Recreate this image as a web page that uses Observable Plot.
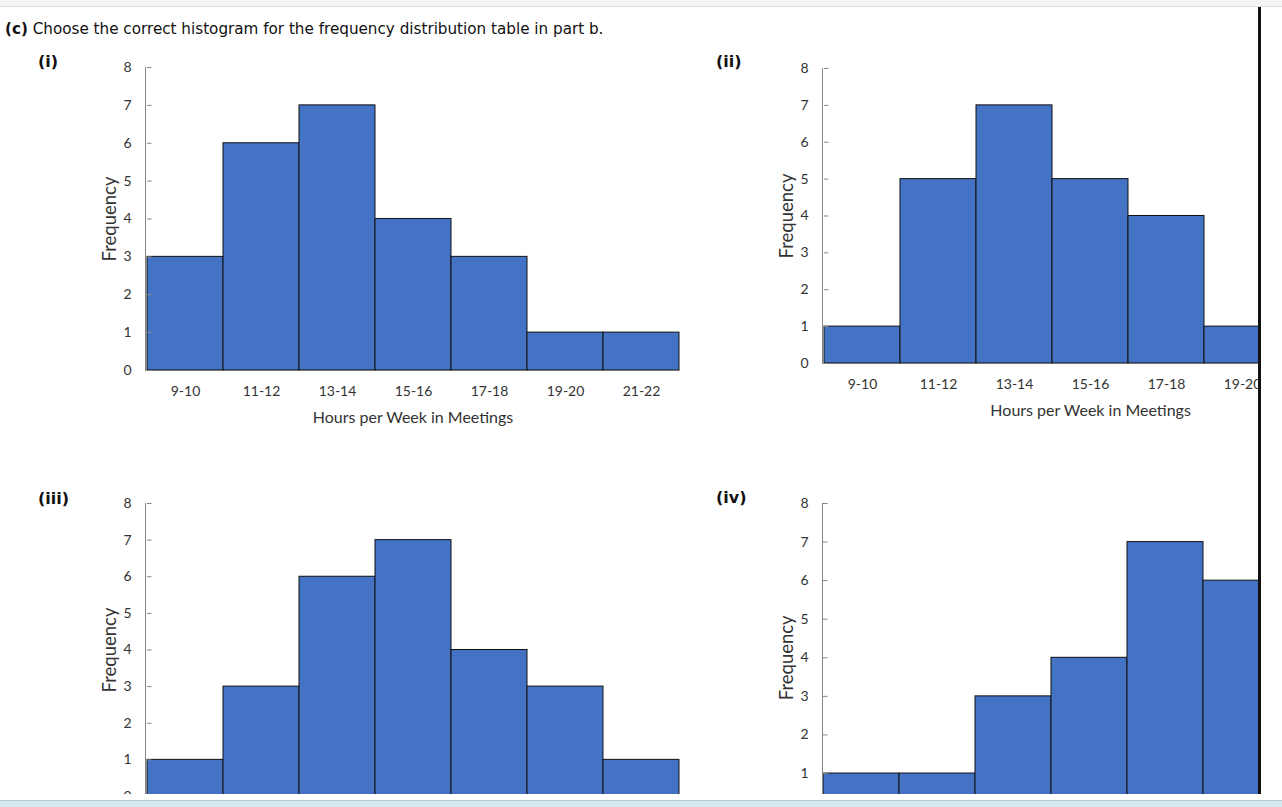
<!DOCTYPE html>
<html>
<head>
<meta charset="utf-8">
<script src="https://cdn.jsdelivr.net/npm/d3@7"></script>
<script src="https://cdn.jsdelivr.net/npm/@observablehq/plot@0.6"></script>
<style>
  html, body { margin: 0; padding: 0; background: #fff; }
  #page { position: relative; width: 1282px; height: 807px; overflow: hidden; background: #fff; }
  #topband { position: absolute; left: 0; top: 0; width: 1282px; height: 6px; background: #f5f5f5; border-bottom: 1px solid #e1e1e1; }
  #heading { position: absolute; left: 5px; top: 20px; font-family: "DejaVu Sans", Verdana, sans-serif; font-size: 15.2px; line-height: 18px; color: #111; white-space: nowrap; }
  #heading b { font-weight: bold; }
  .roman { position: absolute; font-family: "DejaVu Sans", Verdana, sans-serif; font-weight: bold; font-size: 16px; line-height: 18px; color: #111; }
  #clip { position: absolute; left: 0; top: 0; width: 1258px; height: 794px; overflow: hidden; }
  .panel { position: absolute; }
  #vline { position: absolute; left: 1258px; top: 7px; width: 3px; height: 787px; background: #111; }
  #botband { position: absolute; left: 0; top: 800px; width: 1282px; height: 7px; background: #d3e9ef; border-top: 1px solid #b4ccd3; }
</style>
</head>
<body>
<div id="page">
  <div id="topband"></div>
  <div id="heading"><b>(c)</b> Choose the correct histogram for the frequency distribution table in part b.</div>
  <div id="clip"></div>
  <div class="roman" style="left:38px;top:53px">(i)</div>
  <div class="roman" style="left:716px;top:53px">(ii)</div>
  <div class="roman" style="left:38px;top:490px">(iii)</div>
  <div class="roman" style="left:716px;top:489px">(iv)</div>
  <div id="vline"></div>
  <div id="botband"></div>
</div>
<script>
// ---- data ----
const categories = ["9-10", "11-12", "13-14", "15-16", "17-18", "19-20", "21-22"];
const freqI   = [3, 6, 7, 4, 3, 1, 1];
const freqII  = [1, 5, 7, 5, 4, 1];      // last class hidden behind the page edge
const freqIII = [1, 3, 6, 7, 4, 3, 1];
const freqIV  = [1, 1, 3, 4, 7, 6];      // last class hidden behind the page edge
const yTicks  = [0, 1, 2, 3, 4, 5, 6, 7, 8];
const xTitle = "Hours per Week in Meetings";
const yTitle = "Frequency";

function rows(freq) {
  return freq.map((f, i) => ({cat: categories[i], freq: f}));
}

function panel(freq, axisX, y8, y0, bandW) {
  const mL = 70, mT = 10, mB = 70, mR = 20;
  const plotW = bandW * categories.length;
  const width = mL + plotW + mR;
  const height = mT + (y0 - y8) + mB;
  const chart = Plot.plot({
    width, height,
    marginLeft: mL, marginRight: mR, marginTop: mT, marginBottom: mB,
    style: {fontFamily: "Lato, 'Open Sans', sans-serif", fontSize: "14px", background: "transparent", overflow: "visible"},
    x: {domain: categories, padding: 0, axis: null},
    y: {domain: [0, 8], axis: null},
    marks: [
      Plot.ruleY([0], {stroke: "#d9d9d9", strokeWidth: 1}),
      Plot.barY(rows(freq), {x: "cat", y: "freq", fill: "#4472c4", stroke: "#111", strokeWidth: 1}),
      Plot.frame({anchor: "left", stroke: "#868686"}),
      // inward tick marks on the y axis
      Plot.tickY(yTicks, {y: d => d, x: () => categories[0], insetRight: bandW - 5, stroke: "#868686"}),
      // y tick labels
      Plot.text(yTicks, {y: d => d, frameAnchor: "left", dx: -14, textAnchor: "end", lineAnchor: "middle",
                         text: d => String(d), fontSize: 14, fill: "#333"}),
      // x tick labels
      Plot.text(categories, {x: d => d, frameAnchor: "bottom", dy: 21, textAnchor: "middle", lineAnchor: "middle",
                             text: d => d, fontSize: 14, fill: "#333"}),
      Plot.text([xTitle], {frameAnchor: "bottom", dy: 47, textAnchor: "middle", lineAnchor: "middle",
                           text: d => d, fontSize: 16, fill: "#333"}),
      Plot.text([yTitle], {frameAnchor: "left", dx: -35, rotate: -90, textAnchor: "middle", lineAnchor: "middle",
                           text: d => d, fontSize: 18.5, fill: "#333"})
    ]
  });
  chart.classList.add("panel");
  chart.style.left = (axisX - mL) + "px";
  chart.style.top = (y8 - mT) + "px";
  document.getElementById("clip").appendChild(chart);
}

panel(freqI,   145, 67, 370, 76.43);
panel(freqII,  822, 68, 363, 76.6);
panel(freqIII, 145, 503, 796, 76.43);
panel(freqIV,  822, 503, 811.6, 76.4);
</script>
</body>
</html>
